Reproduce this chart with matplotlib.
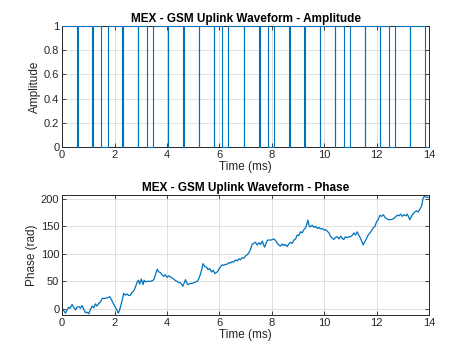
import numpy as np
import matplotlib
matplotlib.use("Agg")
import matplotlib.pyplot as plt

# amplitude: short dips to zero at slot edges, and a few longer off gaps (ms)
dip_times = [0.573, 1.145, 2.30, 2.89, 4.03, 4.62, 5.21, 5.79, 6.94, 7.52,
             8.67, 9.25, 9.84, 10.40, 11.54, 12.13, 13.27]
gap_starts = [1.49, 3.25, 6.12, 7.85, 10.75, 12.49]
gap_ends = [1.74, 3.47, 6.35, 8.08, 10.98, 12.71]
amp_end = 13.86

# phase (rad)
phase_t = [0.00, 0.06, 0.13, 0.19, 0.25, 0.31, 0.38, 0.44, 0.51, 0.57, 0.64, 0.70,
           0.76, 0.82, 0.89, 0.95, 1.02, 1.08, 1.15, 1.21, 1.27, 1.33, 1.40, 1.46,
           1.53, 1.62, 1.72, 1.82, 1.87, 1.91, 1.97, 2.04, 2.10, 2.14, 2.19, 2.23,
           2.29, 2.35, 2.41, 2.48, 2.54, 2.61, 2.67, 2.74, 2.80, 2.86, 2.91, 2.96,
           3.02, 3.06, 3.09, 3.13, 3.18, 3.27, 3.37, 3.44, 3.50, 3.56, 3.63, 3.69,
           3.75, 3.81, 3.88, 3.94, 4.01, 4.07, 4.14, 4.20, 4.26, 4.33, 4.39, 4.45,
           4.52, 4.57, 4.61, 4.66, 4.71, 4.76, 4.80, 4.88, 4.96, 5.05, 5.15, 5.20,
           5.26, 5.32, 5.38, 5.44, 5.51, 5.57, 5.64, 5.70, 5.77, 5.83, 5.89, 5.94,
           5.98, 6.04, 6.11, 6.17, 6.24, 6.30, 6.36, 6.42, 6.49, 6.55, 6.62, 6.68,
           6.75, 6.81, 6.87, 6.94, 7.00, 7.06, 7.13, 7.19, 7.25, 7.31, 7.38, 7.44,
           7.51, 7.57, 7.64, 7.69, 7.73, 7.79, 7.85, 7.98, 8.08, 8.15, 8.21, 8.27,
           8.34, 8.40, 8.46, 8.52, 8.59, 8.65, 8.72, 8.78, 8.85, 8.91, 8.97, 9.03,
           9.10, 9.16, 9.23, 9.30, 9.38, 9.43, 9.48, 9.54, 9.61, 9.67, 9.74, 9.80,
           9.86, 9.93, 9.99, 10.05, 10.12, 10.18, 10.25, 10.31, 10.37, 10.44, 10.50, 10.56,
           10.63, 10.69, 10.75, 10.81, 10.88, 10.94, 11.01, 11.08, 11.14, 11.20, 11.26, 11.32,
           11.39, 11.44, 11.49, 11.55, 11.62, 11.68, 11.75, 11.81, 11.87, 11.94, 12.00, 12.06,
           12.13, 12.19, 12.26, 12.32, 12.38, 12.46, 12.54, 12.60, 12.66, 12.72, 12.79, 12.85,
           12.92, 12.98, 13.05, 13.11, 13.17, 13.22, 13.27, 13.33, 13.40, 13.46, 13.53, 13.59,
           13.66, 13.72, 13.78, 13.83, 13.87, 13.93, 13.97]
phase_v = [2, -3, -8, -2, 3, 1, 8, 3, -2, 3, 4, 1,
           6, 0, -7, -6, -9, -1, 5, 2, 9, 5, 10, 12,
           19, 19, 20, 22, 18, 14, 8, 2, -3, -8, -3, 4,
           15, 28, 25, 27, 24, 25, 30, 33, 40, 48, 52, 45,
           54, 48, 44, 52, 49, 50, 50, 51, 53, 62, 72, 67,
           66, 62, 59, 62, 57, 60, 58, 56, 54, 51, 50, 48,
           47, 44, 41, 47, 53, 47, 44, 46, 46, 48, 50, 53,
           60, 70, 82, 77, 76, 71, 73, 67, 70, 64, 66, 68,
           72, 76, 80, 79, 81, 81, 84, 83, 86, 85, 89, 87,
           91, 89, 93, 92, 96, 98, 102, 108, 117, 119, 121, 116,
           120, 117, 123, 116, 112, 120, 125, 125, 127, 124, 119, 116,
           114, 118, 115, 117, 113, 118, 121, 119, 125, 127, 134, 133,
           140, 138, 144, 148, 161, 150, 149, 152, 148, 150, 146, 148,
           145, 146, 143, 144, 141, 138, 131, 129, 126, 130, 131, 127,
           132, 128, 126, 131, 129, 131, 131, 134, 138, 134, 140, 134,
           128, 122, 116, 122, 128, 134, 138, 142, 147, 150, 158, 162,
           170, 168, 171, 166, 164, 162, 162, 163, 164, 167, 170, 169,
           172, 168, 171, 169, 172, 167, 162, 168, 173, 176, 178, 176,
           182, 187, 202, 204, 203, 203, 202]

blue = "#0072BD"
txt = "#262626"
plt.rcParams['font.family'] = ['Liberation Sans', 'DejaVu Sans']

# build the step trace for the amplitude
events = [(t, t + 0.02) for t in dip_times] + list(zip(gap_starts, gap_ends))
events.sort()
amp_t, amp_a = [0.0], [1.0]
for s, e in events:
    amp_t += [s, s, e, e]
    amp_a += [1, 0, 0, 1]
amp_t += [amp_end, amp_end, 13.97]
amp_a += [1, 0, 0]

fig = plt.figure(figsize=(4.74, 3.55), dpi=100)
ax1 = fig.add_axes([0.131, 0.586, 0.774, 0.341])
ax2 = fig.add_axes([0.131, 0.113, 0.774, 0.338])

ax1.plot(amp_t, amp_a, color=blue, lw=0.8, clip_on=False, zorder=5)
ax1.set_ylim(0, 1)
ax1.set_yticks(np.arange(0, 1.01, 0.2))
ax1.set_yticklabels(["0", "0.2", "0.4", "0.6", "0.8", "1"])
ax1.set_ylabel("Amplitude", fontsize=8.5, color=txt, labelpad=2)
ax1.set_title("MEX - GSM Uplink Waveform - Amplitude", fontsize=8.5, fontweight="bold", pad=3)

ax2.plot(phase_t, phase_v, color=blue, lw=0.9)
ax2.set_ylim(-11, 207)
ax2.set_yticks([0, 50, 100, 150, 200])
ax2.set_ylabel("Phase (rad)", fontsize=8.5, color=txt, labelpad=2)
ax2.set_title("MEX - GSM Uplink Waveform - Phase", fontsize=8.5, fontweight="bold", pad=3)

for ax in (ax1, ax2):
    ax.set_xlim(0, 14)
    ax.set_xticks(range(0, 15, 2))
    ax.set_xlabel("Time (ms)", fontsize=8.5, color=txt, labelpad=1)
    ax.grid(True, color="#dcdcdc", lw=0.6)
    ax.set_axisbelow(True)
    ax.tick_params(direction="in", length=3, width=0.6, labelsize=8, colors=txt,
                   top=True, right=True, pad=2)
    for s in ax.spines.values():
        s.set_color(txt)
        s.set_linewidth(0.7)

fig.savefig("out.png", dpi=100)
